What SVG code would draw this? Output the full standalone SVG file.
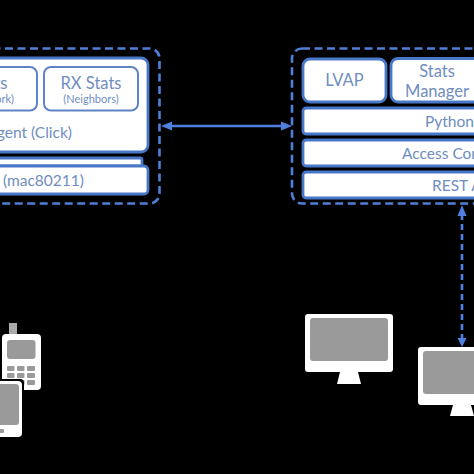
<svg xmlns="http://www.w3.org/2000/svg" width="474" height="474" viewBox="0 0 474 474">
<style>
.dash{fill:none;stroke:#4f7fd6;stroke-width:2.6;stroke-dasharray:8 4.500}
.box{fill:#fff;stroke:#4a78c8;stroke-width:2.800}
.in{fill:#fff;stroke:#5f84c4;stroke-width:2}
text{font-family:"Lato","Open Sans",sans-serif;fill:#6f8dc2;font-size:16.500px}
.m{text-anchor:middle}
.e{text-anchor:end}
.s{font-size:11px}
.b{font-size:15.500px}
.w{fill:#fff}
.g{fill:#9a9a9a}
.a{stroke:#4f80e0;stroke-width:2.600;fill:none}
.h{fill:#4f80e0}
</style>
<rect width="474" height="474" fill="#000"/>
<g id="left-host">
<rect class="dash" x="-30" y="48.500" width="189.500" height="155" rx="10"/>
<rect class="box" x="-20" y="58" width="168" height="94" rx="7"/>
<rect class="in" x="-20" y="67" width="57" height="43.500" rx="7"/>
<rect class="in" x="44" y="67" width="94" height="43.500" rx="7"/>
<text class="e" x="7.500" y="89">Stats</text>
<text class="e s" x="14" y="103">Network)</text>
<text class="m" x="91" y="89">RX Stats</text>
<text class="m s" x="91" y="103">(Neighbors)</text>
<text class="e b" x="72" y="138">Agent (Click)</text>
<rect class="box" x="-20" y="158" width="162" height="8" rx="2"/>
<rect class="box" x="-20" y="166" width="168" height="28" rx="4"/>
<text class="b" x="3" y="186">(mac80211)</text>
</g>
<g id="right-host">
<rect class="dash" x="292" y="48.500" width="220" height="155" rx="10"/>
<rect class="box" x="303" y="59" width="83" height="43" rx="7"/>
<text class="m" x="344.500" y="86">LVAP</text>
<rect class="box" x="391" y="58.500" width="110" height="43.500" rx="7"/>
<text class="m" x="437" y="77">Stats</text>
<text class="m" x="437" y="97">Manager</text>
<rect class="box" x="303" y="108" width="190" height="26" rx="3"/>
<text class="b" x="425" y="127">Python</text>
<rect class="box" x="303" y="140" width="190" height="26" rx="3"/>
<text class="b" x="402" y="159">Access Control</text>
<rect class="box" x="303" y="172" width="190" height="26" rx="3"/>
<text class="b" x="432" y="191">REST API</text>
</g>
<g id="connectors">
<path class="a" d="M170 126H283"/>
<path class="h" d="M161 126l11-4.500v9zM292 126l-11-4.500v9z"/>
<path class="a" d="M462 214V339" stroke-dasharray="6 4"/>
<path class="h" d="M462 205l4.500 11h-9zM462 347l-4.500-9h9z"/>
</g>
<g id="phone">
<rect x="9" y="323" width="8" height="12" fill="#aaa"/>
<rect class="w" x="2" y="334" width="39" height="56" rx="4"/>
<rect class="g" x="7" y="340" width="28.500" height="19" rx="3"/>
<g class="g">
<rect x="7" y="366" width="7.500" height="5" rx="1"/><rect x="17" y="366" width="7.500" height="5" rx="1"/><rect x="27" y="366" width="8" height="5" rx="1"/>
<rect x="7" y="373" width="7.500" height="5" rx="1"/><rect x="17" y="373" width="7.500" height="5" rx="1"/><rect x="27" y="373" width="8" height="5" rx="1"/>
<rect x="7" y="380" width="7.500" height="5" rx="1"/><rect x="17" y="380" width="7.500" height="5" rx="1"/><rect x="27" y="380" width="8" height="5" rx="1"/>
</g>
</g>
<g id="tablet">
<rect x="-8" y="379" width="32" height="60" rx="4" fill="#000"/>
<rect class="w" x="-6" y="381" width="28" height="56" rx="4"/>
<rect class="g" x="-6" y="384" width="25" height="41" rx="3"/>
<rect class="g" x="-2" y="429" width="6" height="4" rx="1"/>
</g>
<g id="monitor-1">
<rect class="w" x="305" y="314" width="88" height="58" rx="3"/>
<rect class="g" x="310" y="318" width="78" height="43" rx="3"/>
<path class="w" d="M340 372h18l3 12h-24z"/>
</g>
<g id="monitor-2">
<rect class="w" x="418" y="347" width="88" height="58" rx="3"/>
<rect class="g" x="423" y="351" width="78" height="43" rx="3"/>
<path class="w" d="M453 405h18l3 11h-24z"/>
</g>
</svg>
